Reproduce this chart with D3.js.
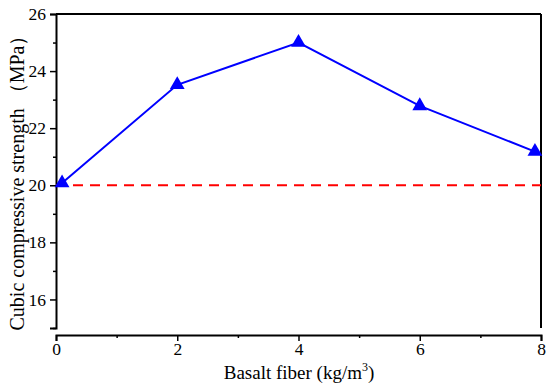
<!DOCTYPE html>
<html>
<head>
<meta charset="utf-8">
<script src="https://cdn.jsdelivr.net/npm/d3@7"></script>
<style>
  body { margin: 0; background: #fff; }
  svg { display: block; }
</style>
</head>
<body>
<div id="chart"></div>
<script>
// Basalt fiber content vs cubic compressive strength, with 20 MPa reference line.
const fiber    = [0.1, 2, 4, 6, 7.9];
const strength = [20.08, 23.52, 25.0, 22.78, 21.18];
const refValue = 20;
const xTicks = [0, 2, 4, 6, 8];
const yTicks = [16, 18, 20, 22, 24, 26];
const xLabel = "Basalt fiber (kg/m";
const yLabel = "Cubic compressive strength （MPa）";

const W = 550, H = 383;
const plotL = 56, plotR = 541, plotT = 14, frameB = 328, xAxisY = 335;
const FONT = "'Liberation Serif', 'Times New Roman', serif";

const x = d3.scaleLinear().domain([0, 8]).range([plotL, plotR]);
const y = d3.scaleLinear().domain([15, 26]).range([frameB, plotT]);

const svg = d3.select("#chart").append("svg")
  .attr("width", W).attr("height", H)
  .attr("font-family", FONT);

// frame: top and right border, left axis, offset bottom axis
svg.append("line").attr("x1", plotL).attr("x2", plotR).attr("y1", plotT).attr("y2", plotT)
  .attr("stroke", "#000").attr("stroke-width", 2);
svg.append("line").attr("x1", plotR).attr("x2", plotR).attr("y1", plotT).attr("y2", frameB)
  .attr("stroke", "#000").attr("stroke-width", 2);

const yAxis = svg.append("g").attr("transform", `translate(${plotL},0)`)
  .call(d3.axisLeft(y).tickValues(yTicks).tickSize(6).tickPadding(4).tickFormat(d3.format("d")));
const yMinor = svg.append("g").attr("transform", `translate(${plotL},0)`)
  .call(d3.axisLeft(y).tickValues(d3.range(15, 26, 2)).tickSize(3).tickFormat(""));

const xAxis = svg.append("g").attr("transform", `translate(0,${xAxisY})`)
  .call(d3.axisBottom(x).tickValues(xTicks).tickSize(6).tickPadding(2).tickFormat(d3.format("d")));
const xMinor = svg.append("g").attr("transform", `translate(0,${xAxisY})`)
  .call(d3.axisBottom(x).tickValues([1, 3, 5, 7]).tickSize(3).tickFormat(""));

for (const g of [yAxis, yMinor, xAxis, xMinor]) {
  g.select(".domain").attr("stroke", "#000").attr("stroke-width", 2);
  g.selectAll(".tick line").attr("stroke", "#000").attr("stroke-width", 1.5);
  g.selectAll(".tick text").attr("font-size", 17.5).attr("fill", "#000").attr("font-family", FONT);
}
yMinor.select(".domain").remove();
xMinor.select(".domain").remove();

// reference line
svg.append("line")
  .attr("x1", plotL).attr("x2", plotR)
  .attr("y1", y(refValue)).attr("y2", y(refValue))
  .attr("stroke", "#ff0000").attr("stroke-width", 2)
  .attr("stroke-dasharray", "10 7");

// data line
const pts = fiber.map((f, i) => [f, strength[i]]);
svg.append("path")
  .datum(pts)
  .attr("fill", "none")
  .attr("stroke", "#0000ff")
  .attr("stroke-width", 2)
  .attr("d", d3.line().x(d => x(d[0])).y(d => y(d[1])));

svg.append("g").selectAll("path.mk")
  .data(pts)
  .join("path")
    .attr("class", "mk")
    .attr("transform", d => `translate(${x(d[0])},${y(d[1])})`)
    .attr("d", d3.symbol(d3.symbolTriangle, 95))
    .attr("fill", "#0000ff");

// axis titles
const xt = svg.append("text")
  .attr("x", 299).attr("y", 379)
  .attr("text-anchor", "middle")
  .attr("font-size", 19)
  .attr("fill", "#000");
xt.append("tspan").text(xLabel);
xt.append("tspan").attr("font-size", 12).attr("dy", -8).text("3");
xt.append("tspan").attr("dy", 8).text(")");

svg.append("text")
  .attr("transform", `translate(24,178) rotate(-90)`)
  .attr("text-anchor", "middle")
  .attr("font-size", 20)
  .attr("fill", "#000")
  .text(yLabel);
</script>
</body>
</html>
